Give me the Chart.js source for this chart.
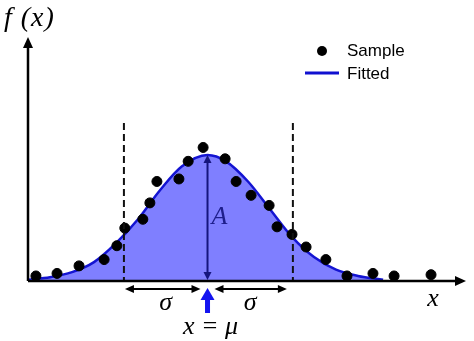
<!DOCTYPE html>
<html>
<head>
<meta charset="utf-8">
<script src="https://cdn.jsdelivr.net/npm/chart.js@4/dist/chart.umd.min.js"></script>
<style>
  body { margin: 0; background: #fff; }
  #wrap { width: 474px; height: 341px; }
</style>
</head>
<body>
<div id="wrap"><canvas id="chart" width="474" height="341"></canvas></div>
<script>
// sample points
var sampleX = [0.18, 0.66, 1.16, 1.73, 2.02, 2.20, 2.61, 2.77, 2.93, 3.43, 3.64, 3.98,
               4.48, 4.73, 5.07, 5.48, 5.66, 6.00, 6.32, 6.77, 7.25, 7.84, 8.32, 9.16];
var sampleY = [0.04, 0.06, 0.12, 0.17, 0.28, 0.42, 0.49, 0.62, 0.79, 0.81, 0.95, 1.06,
               0.97, 0.79, 0.68, 0.60, 0.43, 0.37, 0.27, 0.17, 0.04, 0.06, 0.04, 0.05];

// fitted curve
var fitX = [0, 0.5, 1, 1.5, 2, 2.5, 3, 3.5, 4.08, 4.5, 5, 5.5, 6, 6.5, 7, 7.5, 8.07];
var fitY = [0.01, 0.03, 0.07, 0.15, 0.30, 0.49, 0.72, 0.91, 1.00, 0.95, 0.79, 0.57, 0.35, 0.19, 0.09, 0.04, 0.01];

var muValue = 4.08;
var sigmaLines = [2.18, 6.02];

var legendLabels = ['Sample', 'Fitted'];

function arrowHead(ctx, x, y, angle, len, half) {
    ctx.save();
    ctx.translate(x, y);
    ctx.rotate(angle);
    ctx.beginPath();
    ctx.moveTo(0, 0);
    ctx.lineTo(-len, -half);
    ctx.lineTo(-len, half);
    ctx.closePath();
    ctx.fill();
    ctx.restore();
}

var decor = {
    id: 'decor',
    afterDatasetsDraw: function (chart) {
        var ctx = chart.ctx;
        var xs = chart.scales.x, ys = chart.scales.y;
        var x0 = xs.getPixelForValue(0);
        var y0 = ys.getPixelForValue(0);
        var mx = xs.getPixelForValue(muValue);
        var peak = ys.getPixelForValue(1);
        var s1 = xs.getPixelForValue(sigmaLines[0]);
        var s2 = xs.getPixelForValue(sigmaLines[1]);

        ctx.save();
        // dashed sigma lines
        ctx.strokeStyle = '#111';
        ctx.lineWidth = 2;
        ctx.setLineDash([7, 4]);
        [s1, s2].forEach(function (sx) {
            ctx.beginPath();
            ctx.moveTo(sx, 123);
            ctx.lineTo(sx, y0);
            ctx.stroke();
        });
        ctx.setLineDash([]);

        // amplitude arrow
        ctx.strokeStyle = '#16167e';
        ctx.fillStyle = '#16167e';
        ctx.lineWidth = 2;
        ctx.beginPath();
        ctx.moveTo(mx, peak + 6);
        ctx.lineTo(mx, y0 - 6);
        ctx.stroke();
        arrowHead(ctx, mx, peak, -Math.PI / 2, 8, 4);
        arrowHead(ctx, mx, y0 - 1, Math.PI / 2, 8, 4);

        // axes
        ctx.strokeStyle = '#000';
        ctx.fillStyle = '#000';
        ctx.lineWidth = 2.5;
        ctx.beginPath();
        ctx.moveTo(x0, y0);
        ctx.lineTo(x0, 46);
        ctx.moveTo(x0, y0);
        ctx.lineTo(457, y0);
        ctx.stroke();
        arrowHead(ctx, x0, 37, -Math.PI / 2, 11, 5);
        arrowHead(ctx, 466, y0, 0, 11, 5);

        // sigma arrows
        ctx.lineWidth = 2;
        var ay = 289;
        [[s1 + 1, mx - 7], [mx + 7, s2 - 6]].forEach(function (p) {
            ctx.beginPath();
            ctx.moveTo(p[0] + 5, ay);
            ctx.lineTo(p[1] - 5, ay);
            ctx.stroke();
            arrowHead(ctx, p[0], ay, Math.PI, 9, 4);
            arrowHead(ctx, p[1], ay, 0, 9, 4);
        });

        // mu arrow
        ctx.fillStyle = '#1414f0';
        ctx.fillRect(mx - 2.5, 299, 5, 14);
        arrowHead(ctx, mx, 288, -Math.PI / 2, 12, 7);

        // math labels
        ctx.fillStyle = '#000';
        ctx.textBaseline = 'alphabetic';
        ctx.textAlign = 'left';
        ctx.font = 'italic 28px "Liberation Serif"';
        ctx.letterSpacing = '1px';
        ctx.fillText('f (x)', 4, 26);
        ctx.letterSpacing = '0px';
        ctx.textAlign = 'center';
        ctx.font = 'italic 26px "Liberation Serif"';
        ctx.fillText('σ', (s1 + mx) / 2, 310);
        ctx.fillText('σ', (mx + s2) / 2, 310);
        ctx.fillText('x = μ', mx + 3, 334);
        ctx.fillText('x', 433, 306);
        ctx.fillStyle = '#1e1e8c';
        ctx.fillText('A', mx + 12, 224);

        // legend
        ctx.fillStyle = '#000';
        ctx.beginPath();
        ctx.arc(322, 51, 5, 0, Math.PI * 2);
        ctx.fill();
        ctx.strokeStyle = '#1010d0';
        ctx.lineWidth = 3;
        ctx.beginPath();
        ctx.moveTo(305, 73);
        ctx.lineTo(339, 73);
        ctx.stroke();
        ctx.fillStyle = '#000';
        ctx.textAlign = 'left';
        ctx.textBaseline = 'middle';
        ctx.font = '17px "Liberation Sans"';
        ctx.fillText(legendLabels[0], 347, 51);
        ctx.fillText(legendLabels[1], 347, 74);
        ctx.restore();
    }
};

var fitPoints = fitX.map(function (x, i) { return { x: x, y: fitY[i] }; });
var samplePoints = sampleX.map(function (x, i) { return { x: x, y: sampleY[i] }; });

new Chart(document.getElementById('chart'), {
    type: 'scatter',
    data: {
        datasets: [{
            label: legendLabels[0],
            data: samplePoints,
            backgroundColor: '#000',
            borderColor: '#000',
            pointRadius: 5,
            order: 1
        }, {
            type: 'line',
            label: legendLabels[1],
            data: fitPoints,
            borderColor: '#1414d2',
            borderWidth: 2.5,
            backgroundColor: 'rgba(0, 0, 255, 0.5)',
            fill: 'origin',
            pointRadius: 0,
            cubicInterpolationMode: 'monotone',
            order: 2
        }]
    },
    options: {
        responsive: false,
        animation: false,
        layout: { padding: { left: 28, right: 6, top: 38, bottom: 60 } },
        scales: {
            x: { type: 'linear', min: 0, max: 10, display: false },
            y: { min: 0, max: 1.929, display: false }
        },
        plugins: {
            legend: { display: false },
            tooltip: { enabled: false }
        }
    },
    plugins: [decor]
});
</script>
</body>
</html>
